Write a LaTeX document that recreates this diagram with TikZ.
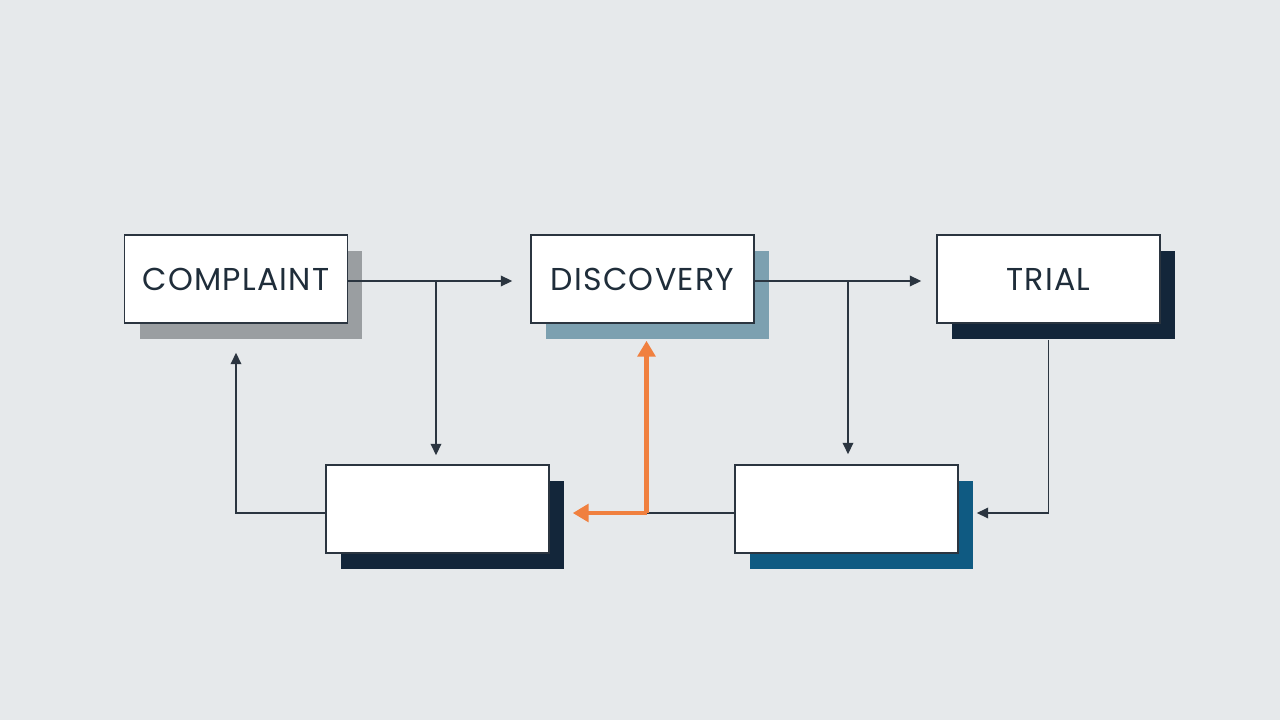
\documentclass[tikz,border=0pt]{standalone}
\usepackage{fontspec}
\setmainfont{Poppins}[LetterSpace=4]
\usetikzlibrary{shadows,arrows.meta,calc}
\definecolor{bg}{HTML}{E6E9EB}
\definecolor{ink}{HTML}{1F2D3A}
\definecolor{lineclr}{HTML}{2B3540}
\definecolor{shgray}{HTML}{9A9EA1}
\definecolor{shsteel}{HTML}{7CA0B0}
\definecolor{shnavy}{HTML}{13263A}
\definecolor{shblue}{HTML}{0F5A82}
\definecolor{orng}{HTML}{F0803F}
\tikzset{
  stagebox/.style={draw=lineclr, line width=0.9pt, fill=white, minimum width=4.46cm, minimum height=1.76cm, inner sep=0pt, text=ink, font=\fontsize{18}{20}\selectfont},
  shd/.style={general shadow={fill=#1, shadow xshift=0.3cm, shadow yshift=-0.32cm}},
  conn/.style={draw=lineclr, line width=1pt, -{Triangle[length=6.5pt,width=6pt]}},
  plainln/.style={draw=lineclr, line width=1pt},
  hot/.style={draw=orng, line width=2.4pt, -{Triangle[length=9pt,width=10pt]}}
}
\begin{document}
\begin{tikzpicture}[x=0.02cm, y=-0.02cm]
\fill[bg] (0,0) rectangle (1280,720);
\useasboundingbox (0,0) rectangle (1280,720);
\node[stagebox, shd=shgray] (c) at (236,279) {COMPLAINT};
\node[stagebox, shd=shsteel] (d) at (642.5,279) {DISCOVERY};
\node[stagebox, shd=shnavy] (t) at (1048.5,279) {TRIAL};
\node[stagebox, shd=shnavy] (bl) at (437.5,509) {};
\node[stagebox, shd=shblue] (br) at (846.5,509) {};
% top row
\draw[conn, shorten >=0.36cm] ([yshift=-0.04cm]c.east) -- ([yshift=-0.04cm]d.west);
\draw[conn, shorten >=0.18cm] ([yshift=-0.04cm,xshift=-0.03cm]c.east -| bl.north) -- ([xshift=-0.03cm]bl.north);
\draw[conn, shorten >=0.3cm] ([yshift=-0.04cm]d.east) -- ([yshift=-0.04cm]t.west);
\draw[conn, shorten >=0.2cm] ([yshift=-0.04cm,xshift=0.03cm]d.east -| br.north) -- ([xshift=0.03cm]br.north);
% trial down to br
\draw[conn, shorten >=0.36cm] ([yshift=-0.32cm]t.south) -- ([yshift=-0.08cm]t.south |- br.east) -- ([yshift=-0.08cm]br.east);
% br to junction
\coordinate (j) at ([yshift=-0.08cm,xshift=0.08cm]br.west -| d.south);
\draw[plainln] ([yshift=-0.08cm]br.west) -- (j);
\draw[hot, shorten >=0.34cm] (j) -- (j |- d.south);
\draw[hot, shorten >=0.46cm] (j) -- ([yshift=-0.08cm]bl.east);
% bl back to complaint
\draw[conn, shorten >=0.58cm] ([yshift=-0.08cm]bl.west) -- ([yshift=-0.08cm]bl.west -| c.south) -- (c.south);
\end{tikzpicture}
\end{document}
